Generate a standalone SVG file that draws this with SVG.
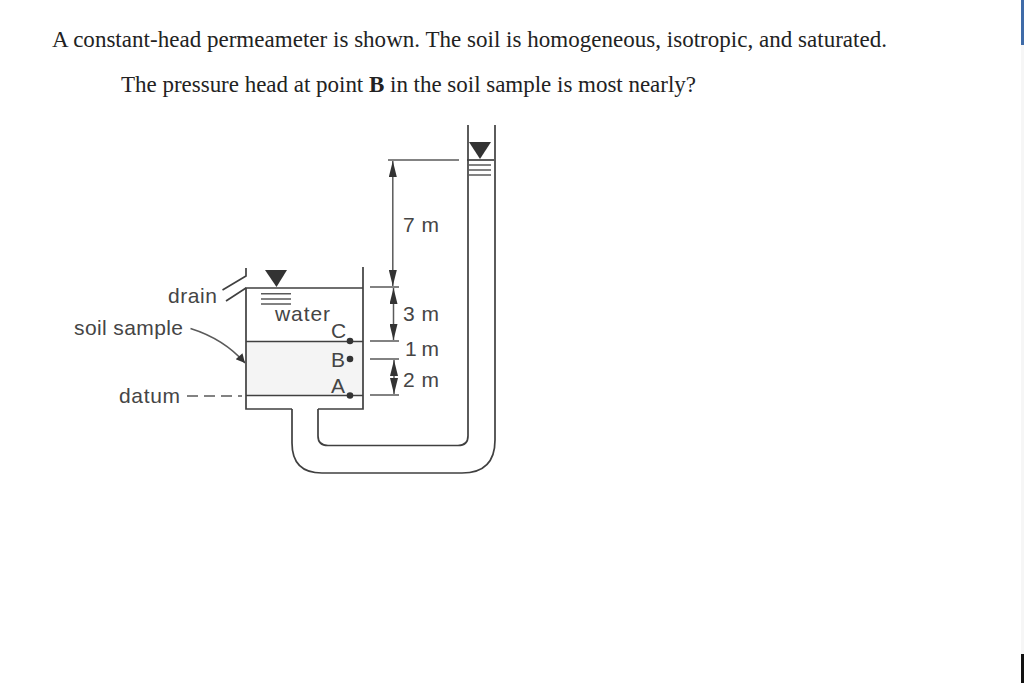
<svg xmlns="http://www.w3.org/2000/svg" width="1024" height="683" viewBox="0 0 1024 683">
<style>
.h{font-family:"Liberation Serif","Times New Roman",serif;font-size:23px;fill:#222}
.l{font-family:"Liberation Sans",Arial,sans-serif;font-size:21px;fill:#454545}
.s{fill:none;stroke:#404040;stroke-width:1.7}
.t{fill:none;stroke:#5a5a5a;stroke-width:1.5}
.d{fill:#333}
</style>
<defs>
<marker id="a" viewBox="0 0 16 8" refX="16" refY="4" markerWidth="16" markerHeight="8" markerUnits="userSpaceOnUse" orient="auto-start-reverse"><path d="M0 0L16 4L0 8Z" fill="#333"/></marker>
<marker id="b" viewBox="0 0 10 10" refX="10" refY="5" markerWidth="11" markerHeight="9" markerUnits="userSpaceOnUse" orient="auto"><path d="M0 0L10 5L0 10Z" fill="#333"/></marker>
</defs>
<rect width="1024" height="683" fill="#fff"/>
<rect x="1021" y="45" width="3" height="609" fill="#f6f6f6"/>
<rect x="1021" y="0" width="3" height="45" fill="#3f6ba8"/>
<rect x="1021" y="654" width="3" height="29" fill="#111"/>
<text class="h" x="52" y="47" textLength="835">A constant-head permeameter is shown. The soil is homogeneous, isotropic, and saturated.</text>
<text class="h" x="121" y="92" textLength="575">The pressure head at point <tspan font-weight="bold">B</tspan> in the soil sample is most nearly?</text>
<g id="soil"><rect x="247" y="342" width="116" height="53" fill="#f4f4f4"/></g>
<g id="tank">
<path class="s" d="M363 267V409H318M292 409H246V288H363M246 341.500H363M246 395.500H363"/>
<path class="s" d="M222.500 290L246 276V268M226 301L246 288"/>
</g>
<g id="pipe">
<path class="s" d="M292 409V443Q292 473 322 473H462Q495 473 495 440V125"/>
<path class="s" d="M318 409V436Q318 445.500 328 445.500H458Q468 445.500 468 436V125"/>
</g>
<g id="water-level-tank">
<path class="d" d="M265 270H287L276.500 287Z"/>
<path class="t" d="M261 293.700H291M261 299H291M261 304H291"/>
<text class="l" x="275" y="321" textLength="55">water</text>
</g>
<g id="water-level-column">
<path class="d" d="M469 142H491L480 159Z"/>
<path class="s" d="M467 160H494"/>
<path class="t" d="M468 165H491M468 170H491M468 175H491"/>
</g>
<g id="point-C"><circle class="d" cx="350" cy="341" r="3.300"/><text class="l" x="331" y="338">C</text></g>
<g id="point-B"><circle class="d" cx="350" cy="359" r="3.300"/><text class="l" x="331" y="367">B</text></g>
<g id="point-A"><circle class="d" cx="350" cy="395.500" r="3.300"/><text class="l" x="331" y="393">A</text></g>
<g id="label-drain"><text class="l" x="168" y="303" textLength="49">drain</text></g>
<g id="label-soil-sample"><text class="l" x="74" y="335" textLength="109">soil sample</text></g>
<g id="label-datum"><text class="l" x="119" y="403" textLength="61">datum</text></g>
<g id="connectors">
<path class="t" d="M190.500 328.500Q224 339 245 363" marker-end="url(#b)"/>
<path class="t" d="M187 396H242" stroke-dasharray="11 6"/>
<path class="t" d="M388 160H459"/>
<path class="t" d="M370 287H399M370 341H399M370 359H399M370 395H399"/>
<path class="t" d="M392.800 161V286" marker-start="url(#a)" marker-end="url(#a)"/>
<path class="t" d="M393.500 288V340" marker-start="url(#a)" marker-end="url(#a)"/>
<path class="t" d="M394 360V394" marker-start="url(#a)" marker-end="url(#a)"/>
</g>
<g id="dimension-labels">
<text class="l" x="403" y="232" textLength="36">7 m</text>
<text class="l" x="403" y="321" textLength="36">3 m</text>
<text class="l" x="405" y="356" textLength="34">1 m</text>
<text class="l" x="403" y="387" textLength="36">2 m</text>
</g>
</svg>
